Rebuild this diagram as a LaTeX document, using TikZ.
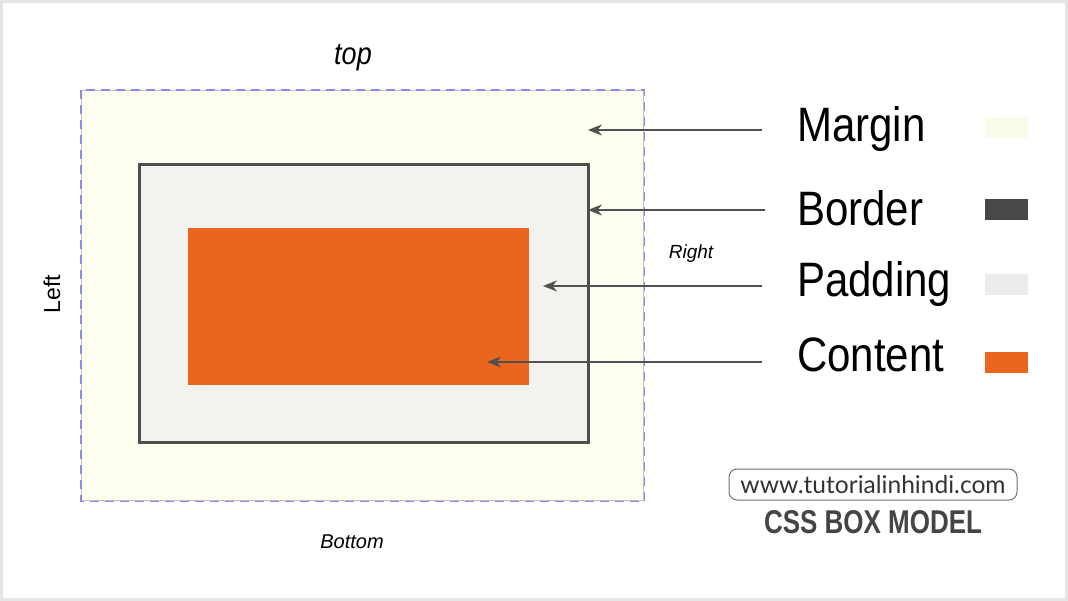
\documentclass[tikz,border=0pt]{standalone}
\usepackage{fontspec}
\setmainfont{Liberation Sans}
\newfontfamily\webfont{Lato}
\usetikzlibrary{arrows.meta}
\definecolor{margincol}{HTML}{FEFEF1}
\definecolor{paddcol}{HTML}{F2F2EE}
\definecolor{bordcol}{HTML}{4E4E4E}
\definecolor{contcol}{HTML}{EA651E}
\definecolor{dashcol}{HTML}{8A8AF0}
\definecolor{arrcol}{HTML}{505050}
\definecolor{swmargin}{HTML}{FBFBEC}
\definecolor{swbord}{HTML}{484848}
\definecolor{swpadd}{HTML}{EBECEC}
\definecolor{titlecol}{HTML}{454545}
\tikzset{
  pointer/.style={draw=arrcol, line width=1.6pt, -{Stealth[length=14pt,width=11pt]}},
  legendlabel/.style={anchor=base west, inner sep=0pt, font=\fontsize{42}{48}\selectfont},
  swatch/.style={minimum width=43pt, minimum height=21pt, inner sep=0pt, draw=none},
  sidelabel/.style={inner sep=0pt, font=\itshape\fontsize{20}{24}\selectfont},
}
\newcommand{\tallText}[1]{\scalebox{1}[1.15]{#1}}
\begin{document}
\begin{tikzpicture}[x=1pt,y=-1pt]
\useasboundingbox (0,0) rectangle (1068,601);
\fill[black!10] (0,0) rectangle (1068,601);
\fill[white] (3,3) rectangle (1065,598);
% margin box
\node[draw=black!25, line width=1.2pt, fill=margincol, minimum width=562pt, minimum height=410pt, inner sep=0pt, anchor=north west] (margin) at (81,90) {};
\draw[dashcol, line width=1.2pt, dash pattern=on 9pt off 6pt] (margin.north west) rectangle (margin.south east);
% border box
\node[draw=bordcol, line width=2.6pt, fill=paddcol, minimum width=449pt, minimum height=278pt, inner sep=0pt, anchor=north west] (border) at (138,163) {};
% content box
\node[fill=contcol, minimum width=341pt, minimum height=157pt, inner sep=0pt, anchor=north west] (content) at (188,228) {};
% side labels
\node[inner sep=0pt, anchor=base, font=\itshape\fontsize{27}{30}\selectfont] (top) at (353,65) {\tallText{top}};
\node[inner sep=0pt, rotate=90, font=\fontsize{23}{26}\selectfont] (left) at (52,294) {Left};
\node[sidelabel, font=\itshape\fontsize{19}{22}\selectfont] (right) at (691,254) {Right};
\node[sidelabel] (bottom) at (352,542) {Bottom};
% legend labels
\node[legendlabel] (lmargin) at (797,142) {\tallText{Margin}};
\node[legendlabel] (lborder) at (797,226) {\tallText{Border}};
\node[legendlabel] (lpadd) at (797,297) {\tallText{Padding}};
\node[legendlabel] (lcont) at (797,371) {\tallText{Content}};
% swatches
\node[swatch, fill=swmargin] (smargin) at (1006.5,127.5) {};
\node[swatch, fill=swbord] (sbord) at (1006.5,210) {};
\node[swatch, fill=swpadd] (spadd) at (1006.5,284.5) {};
\node[swatch, fill=contcol] (scont) at (1006.5,362.5) {};
% arrow coordinates
\coordinate (a1s) at (762,130); \coordinate (a1e) at (588,130);
\coordinate (a2s) at (765,210); \coordinate (a2e) at (588,210);
\coordinate (a3s) at (762,286); \coordinate (a3e) at (543,286);
\coordinate (a4s) at (762,362); \coordinate (a4e) at (487,362);
\draw[pointer] (a1s) -- (a1e);
\draw[pointer] (a2s) -- (a2e);
\draw[pointer] (a3s) -- (a3e);
\draw[pointer] (a4s) -- (a4e);
% website
\node[draw=black!55, line width=1pt, rounded corners=8pt, minimum width=288pt, minimum height=31pt, inner sep=0pt, text=black!80] (web) at (873,484.5) {\resizebox{265pt}{!}{\webfont www.tutorialinhindi.com}};
\node[inner sep=0pt, text=titlecol] (title) at (873,522.5) {\resizebox{218pt}{23pt}{\bfseries CSS BOX MODEL}};
\end{tikzpicture}
\end{document}
